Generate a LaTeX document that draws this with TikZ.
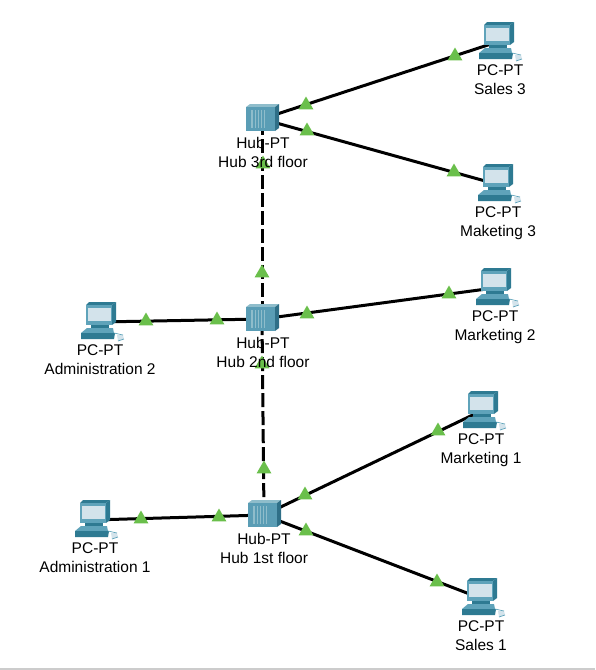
\documentclass[tikz,border=0pt]{standalone}
\usepackage{fontspec}
\setmainfont{Liberation Sans}
\usepackage{xcolor}
\usetikzlibrary{positioning,backgrounds,shapes.geometric}
\definecolor{hubfront}{HTML}{5A9DB5}
\definecolor{hubtop}{HTML}{8FBDCB}
\definecolor{hubside}{HTML}{2F6F87}
\definecolor{pcbody}{HTML}{5FA3BA}
\definecolor{pcdark}{HTML}{2E7A92}
\definecolor{pcscreen}{HTML}{D3E3EB}
\definecolor{ledgreen}{HTML}{6ABF4B}
\definecolor{barline}{HTML}{CCCCCC}

\begin{document}
\begin{tikzpicture}[
  x=1pt, y=-1pt,
  every node/.style={font=\fontsize{15.5}{18.8}\selectfont},
  port/.style={inner sep=0pt, minimum size=4pt},
  lbl/.style={align=center, inner sep=0pt, text=black},
  link/.style={black, line width=3pt},
  trunk/.style={link, dash pattern=on 14pt off 4pt},
  led/.style={regular polygon, regular polygon sides=3, fill=ledgreen,
              inner sep=0pt, minimum size=17pt},
  hubicon/.pic={
    \fill[hubtop] (-16,-12) -- (-12,-15) -- (17,-15) -- (13,-12) -- cycle;
    \fill[hubside] (13,-12) -- (17,-15) -- (17,9) -- (13,12) -- cycle;
    \fill[hubfront] (-16,-12) rectangle (13,12);
    \fill[hubtop] (-11,-9) rectangle (-9,9);
    \fill[hubtop] (-7,-9) rectangle (-6,9);
    \fill[hubtop] (-4,-9) rectangle (-3,9);
    \fill[hubtop] (-1,-9) rectangle (0,9);
    \fill[hubtop] (2,-9) rectangle (3,9);
  },
  pcicon/.pic={
    \fill[pcdark] (-13,-17) -- (-10,-20) -- (17,-20) -- (13,-17) -- cycle;
    \fill[pcdark] (13,-17) -- (17,-20) -- (17,0) -- (13,3) -- cycle;
    \fill[pcbody] (-13,-17) rectangle (13,3);
    \fill[pcscreen] (-11,-14) rectangle (12,-1);
    \fill[pcdark] (-8,3) rectangle (10,6);
    \fill[pcbody] (-12,6) -- (14,6) -- (15,11) -- (-18,11) -- cycle;
    \fill[pcdark] (-18,11) -- (16,11) -- (15,17) -- (-18,17) -- cycle;
    \fill[pcscreen] (18,13) -- (24,13) -- (25,17) -- (19,19) -- cycle;
    \draw[pcbody, line width=0.7pt] (15,11) -- (24,13);
    \draw[pcbody, line width=0.7pt] (19,19) -- (25,17);
  }
]
% hubs
\node[port] (hub3) at (262,119) {};
\node[port] (hub2) at (262,319) {};
\node[port] (hub1) at (264,515) {};
\pic at (hub3) {hubicon};
\pic at (hub2) {hubicon};
\pic at (hub1) {hubicon};
\node[lbl, below=16pt of hub3, xshift=1pt] (hub3txt) {Hub-PT\\Hub 3rd floor};
\node[lbl, below=16pt of hub2, xshift=1pt] (hub2txt) {Hub-PT\\Hub 2nd floor};
\node[lbl, below=16pt of hub1] (hub1txt) {Hub-PT\\Hub 1st floor};

% computers
\node[port] (sales3) at (497,42) {};
\node[port] (mkt3) at (496,184) {};
\node[port] (mkt2) at (494,288) {};
\node[port] (mkt1) at (481,411) {};
\node[port] (sales1) at (480,598) {};
\node[port] (admin2) at (99,322) {};
\node[port] (admin1) at (93,520) {};
\pic at (sales3) {pcicon};
\pic at (mkt3) {pcicon};
\pic at (mkt2) {pcicon};
\pic at (mkt1) {pcicon};
\pic at (sales1) {pcicon};
\pic at (admin2) {pcicon};
\pic at (admin1) {pcicon};
\node[lbl, below=20pt of sales3, xshift=3pt] (sales3txt) {PC-PT\\Sales 3};
\node[lbl, below=20pt of mkt3, xshift=2pt] (mkt3txt) {PC-PT\\Maketing 3};
\node[lbl, below=20pt of mkt2, xshift=1pt] (mkt2txt) {PC-PT\\Marketing 2};
\node[lbl, below=20pt of mkt1] (mkt1txt) {PC-PT\\Marketing 1};
\node[lbl, below=20pt of sales1, xshift=1pt] (sales1txt) {PC-PT\\Sales 1};
\node[lbl, below=20pt of admin2, xshift=1pt] (admin2txt) {PC-PT\\Administration 2};
\node[lbl, below=20pt of admin1, xshift=2pt] (admin1txt) {PC-PT\\Administration 1};

\begin{scope}[on background layer]
\draw[link] (hub3) -- (sales3);
\draw[link] (hub3) -- (mkt3);
\draw[link] (hub2) -- (mkt2);
\draw[link] (admin2) -- (hub2);
\draw[link] (hub1) -- (mkt1);
\draw[link] (hub1) -- (sales1);
\draw[link] (admin1) -- (hub1);
\draw[trunk] (hub3) -- (hub2);
\draw[trunk] (hub2) -- (hub1);

\node[led] (led1) at (306,105) {};
\node[led] (led2) at (455,56) {};
\node[led] (led3) at (307,131) {};
\node[led] (led4) at (454,172) {};
\node[led] (led5) at (307,314) {};
\node[led] (led6) at (449,294) {};
\node[led] (led7) at (146,321) {};
\node[led] (led8) at (217,320) {};
\node[led] (led9) at (263,164) {};
\node[led] (led10) at (262,273) {};
\node[led] (led11) at (262,364) {};
\node[led] (led12) at (264,469) {};
\node[led] (led13) at (141,519) {};
\node[led] (led14) at (219,517) {};
\node[led] (led15) at (305,495) {};
\node[led] (led16) at (438,431) {};
\node[led] (led17) at (306,531) {};
\node[led] (led18) at (437,582) {};
\end{scope}

% bottom edge of the window
\fill[barline] (0,668) rectangle (595,670);
\useasboundingbox (0,0) rectangle (595,670);
\end{tikzpicture}
\end{document}
